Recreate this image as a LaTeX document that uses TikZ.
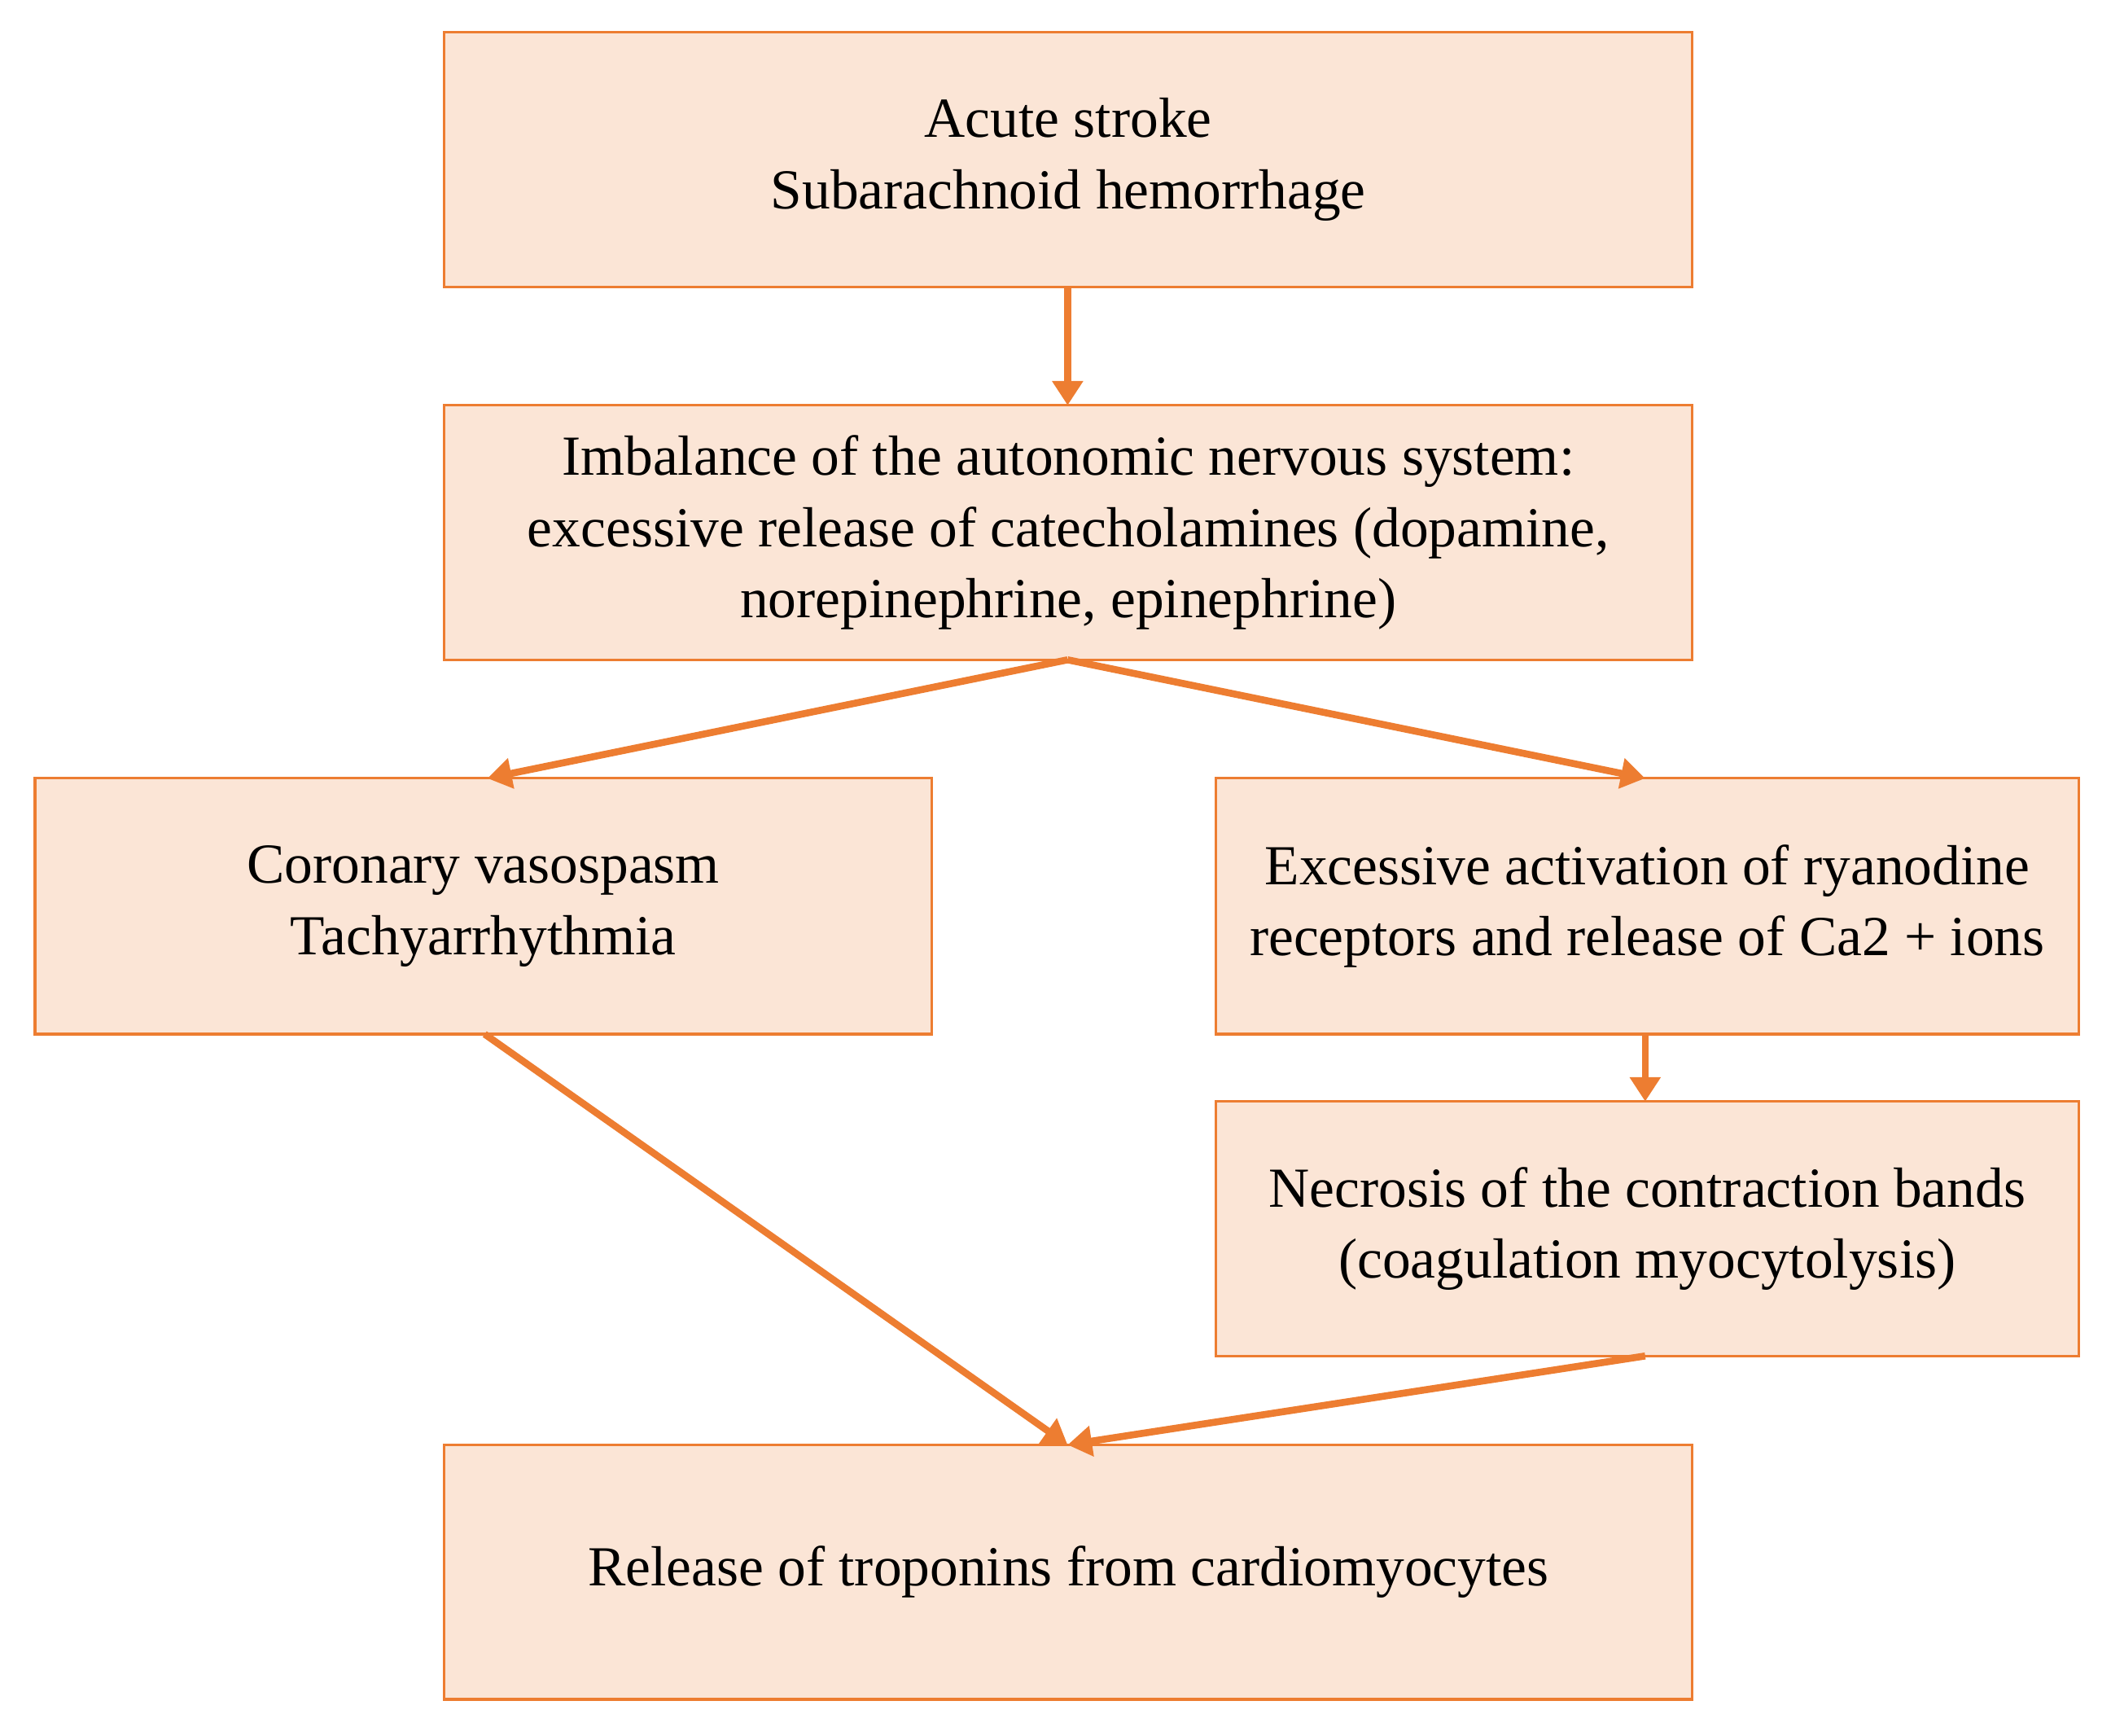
\documentclass[tikz,border=0pt]{standalone}
\usepackage{fontspec}
\setmainfont{Liberation Serif}
\usetikzlibrary{arrows.meta}
\definecolor{boxfill}{HTML}{FBE5D6}
\definecolor{boxline}{HTML}{ED7D31}
\begin{document}
\begin{tikzpicture}[x=0.5pt,y=-0.5pt,
  box/.style={draw=boxline,fill=boxfill,line width=1pt},
  txt/.style={align=center,font=\fontsize{21}{26.5}\selectfont},
  arr/.style={draw=boxline,line width=2.6pt,-{Triangle[length=9pt,width=11pt]}}]
\useasboundingbox (0,0) rectangle (1568,1289);
\draw[box] (330,24) rectangle (1257,213) node[txt,midway] (a) {Acute stroke\\Subarachnoid hemorrhage};
\draw[box] (330,301) rectangle (1257,490) node[txt,midway] (b) {Imbalance of the autonomic nervous system:\\excessive release of catecholamines (dopamine,\\norepinephrine, epinephrine)};
\draw[box] (26,578) rectangle (692,768) node[txt,midway] (c) {Coronary vasospasm\\Tachyarrhythmia};
\draw[box] (903,578) rectangle (1544,768) node[txt,midway] (d) {Excessive activation of ryanodine\\receptors and release of Ca2 + ions};
\draw[box] (903,818) rectangle (1544,1007) node[txt,midway] (e) {Necrosis of the contraction bands\\(coagulation myocytolysis)};
\draw[box] (330,1073) rectangle (1257,1262) node[txt,midway] (f) {Release of troponins from cardiomyocytes};
\coordinate (a1) at (793,213); \coordinate (b0) at (793,301);
\coordinate (b1) at (793,490); \coordinate (c0) at (362,578);
\coordinate (d0) at (1222,578); \coordinate (c1) at (360,768);
\coordinate (d1) at (1222,768); \coordinate (e0) at (1222,818);
\coordinate (e1) at (1222,1007); \coordinate (f0) at (793,1073);
\draw[arr] (a1) -- (b0);
\draw[arr] (b1) -- (c0);
\draw[arr] (b1) -- (d0);
\draw[arr] (c1) -- (f0);
\draw[arr] (d1) -- (e0);
\draw[arr] (e1) -- (f0);
\end{tikzpicture}
\end{document}
